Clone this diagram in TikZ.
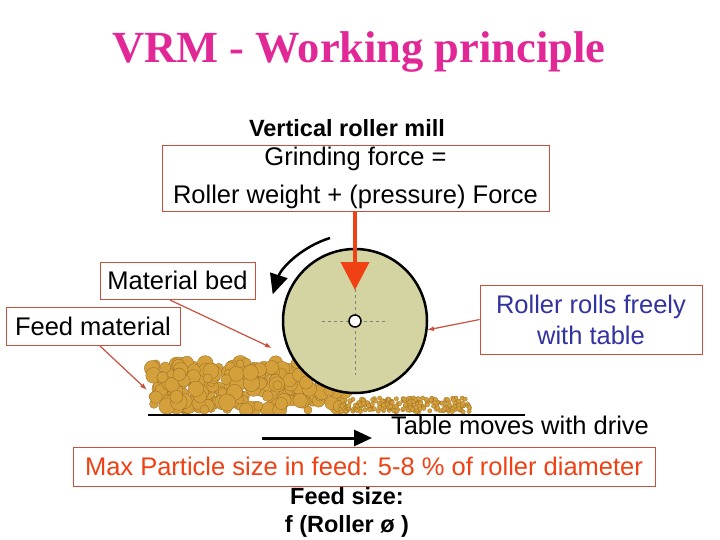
\documentclass[tikz,border=0pt]{standalone}
\usepackage{fontspec}
\setmainfont{Liberation Sans}
\newfontfamily\titlefont{Liberation Serif}
\usetikzlibrary{arrows.meta}
\definecolor{boxred}{RGB}{200,80,60}
\definecolor{titlepink}{RGB}{225,40,150}
\definecolor{rollerfill}{RGB}{212,212,162}
\definecolor{matfill}{RGB}{212,160,60}
\definecolor{matline}{RGB}{150,105,30}
\definecolor{arrred}{RGB}{240,65,20}
\definecolor{bluetxt}{RGB}{50,50,160}
\tikzset{
 lbl/.style={draw=boxred,line width=0.8pt,font=\fontsize{25.5}{29}\selectfont,inner sep=2pt,align=center},
 lead/.style={boxred,line width=1.2pt,-{Latex[length=7pt,width=5pt]}},
}
\begin{document}
\begin{tikzpicture}[x=1pt,y=-1pt]
\useasboundingbox (0,0) rectangle (720,540);
\node (title) at (359,52) {\titlefont\bfseries\fontsize{44.5}{48}\selectfont\color{titlepink}VRM - Working principle};
\node (vrm) at (347,128) {\bfseries\fontsize{23.5}{26}\selectfont Vertical roller mill};
% material
\pgfmathsetseed{7}
\foreach \i in {1,...,260}{
  \pgfmathsetmacro\px{152+rnd*193}
  \pgfmathsetmacro\py{362+rnd*48}
  \pgfmathsetmacro\rr{4+rnd*4.5}
  \fill[matfill,draw=matline,line width=0.3pt] (\px,\py) circle[radius=\rr];
}
\foreach \i in {1,...,240}{
  \pgfmathsetmacro\px{340+rnd*130}
  \pgfmathsetmacro\py{398+rnd*14}
  \fill[matfill,draw=matline,line width=0.2pt] (\px,\py) circle[radius=2.2];
}
\fill[white] (140,414) rectangle (530,425);
\draw[line width=2pt] (148,415) -- (525,415);
% roller
\node[circle,draw,line width=2.5pt,fill=rollerfill,minimum size=144pt,inner sep=0pt] (roller) at (355,321) {};
\draw[gray,line width=0.4pt,dashed] (322,321) -- (388,321) (355,265) -- (355,375);
\node[circle,draw,line width=1.5pt,fill=white,minimum size=12pt,inner sep=0pt] (hub) at (355,321) {};
\draw[line width=2.5pt,-{Triangle[length=20pt,width=18pt]}] (330,238) arc[start angle=-107,end angle=-162,radius=87];
% boxes
\node[lbl,minimum width=387pt,minimum height=66pt] (gf) at (355.5,178) {Grinding force =\\[9pt]Roller weight + (pressure) Force};
\draw[arrred,line width=4pt,-{Triangle[length=28pt,width=28pt]}] (gf.south -| roller.center) -- (355,290);
\node[lbl,minimum width=155pt,minimum height=37pt] (mb) at (177.5,280.5) {Material bed};
\node[lbl,minimum width=174pt,minimum height=38pt] (fm) at (93,326) {Feed material};
\node[lbl,minimum width=222pt,minimum height=69pt,text=bluetxt] (rr) at (591,319.5) {Roller rolls freely\\[2pt]with table};
\node[lbl,minimum width=582pt,minimum height=39pt,text=arrred] (mp) at (364,466.5) {Max Particle size in feed: 5-8 \% of roller diameter};
\node[font=\fontsize{25.5}{29}\selectfont] (tm) at (520,425) {Table moves with drive};
\coordinate (mbend) at (272,348);
\coordinate (fmend) at (147,390);
\coordinate (rrend) at (427,330);
\draw[lead] (170,300) -- (mbend);
\draw[lead] (100,346) -- (fmend);
\draw[lead] (rr.west) -- (rrend);
\coordinate (ta) at (262,438);
\coordinate (tb) at (372,438);
\draw[line width=3pt,-{Triangle[length=18pt,width=16pt]}] (ta) -- (tb);
\node[font=\bfseries\fontsize{23.5}{26}\selectfont] (fs) at (347,496) {Feed size:};
\node[font=\bfseries\fontsize{23.5}{26}\selectfont] (fr) at (347,526) {f (Roller ø )};
\end{tikzpicture}
\end{document}
